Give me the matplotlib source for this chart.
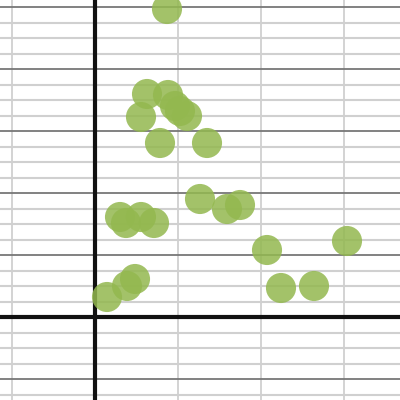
import matplotlib.pyplot as plt
import numpy as np

# point positions (graph units)
px = [167, 147, 168, 175, 180, 187, 141, 160, 207, 200, 227, 240, 120, 126, 141, 154, 267, 347, 281, 314, 135, 127, 107]
py = [9, 94, 95, 106, 111, 116, 117, 143, 143, 199, 209, 205, 217, 223, 217, 223, 250, 241, 288, 286, 279, 286, 297]
xs = (np.array(px) - 95) / 83
ys = (317 - np.array(py)) / 62

fig = plt.figure(figsize=(4, 4), dpi=100)
ax = fig.add_axes([0, 0, 1, 1])
x0, x1 = -95 / 83, 305 / 83
y0, y1 = -83 / 62, 317 / 62
ax.set_xlim(x0, x1)
ax.set_ylim(y0, y1)

for v in np.arange(-1, 4):
    ax.axvline(v, color='#cccccc', lw=1.2, zorder=0)
for h in np.arange(-1.5, 5.2, 0.25):
    major = abs(h - round(h)) < 1e-9
    ax.axhline(h, color='#777777' if major else '#d0d0d0', lw=1.3 if major else 1.5, zorder=0)
ax.axvline(0, color='#111111', lw=3, zorder=1)
ax.axhline(0, color='#111111', lw=3, zorder=1)

ax.scatter(xs, ys, s=470, color='#93b84f', alpha=0.85, edgecolors='none', zorder=2)
ax.axis('off')
fig.savefig('out.png', dpi=100)
